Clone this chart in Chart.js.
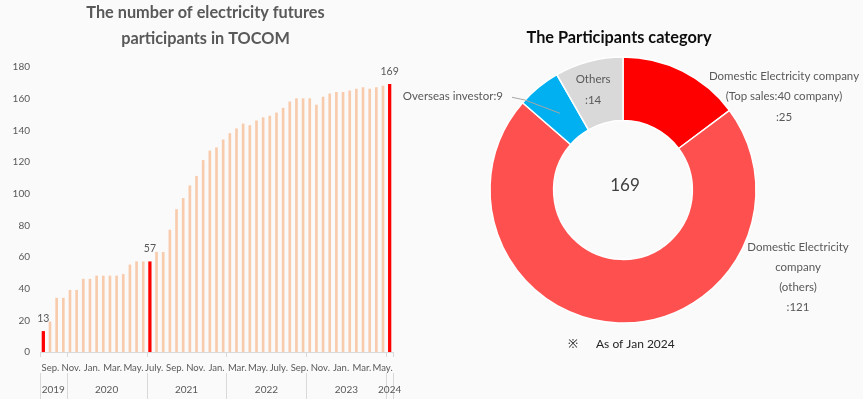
<!DOCTYPE html>
<html><head><meta charset="utf-8">
<script src="https://cdn.jsdelivr.net/npm/chart.js@4.4.1/dist/chart.umd.min.js"></script>
<style>
html,body{margin:0;padding:0;background:#FAFAFA;}
#wrap{position:relative;width:863px;height:399px;overflow:hidden;background:#FAFAFA;}
#bar{position:absolute;left:0;top:0;}
#pie{position:absolute;left:380px;top:0;}
</style></head><body>
<div id="wrap"><canvas id="bar" width="411" height="399"></canvas><canvas id="pie" width="483" height="399"></canvas></div>
<script>
// ---------- data: left chart ----------
const periods = ['2019-09','2019-10','2019-11','2019-12',
  '2020-01','2020-02','2020-03','2020-04','2020-05','2020-06','2020-07','2020-08','2020-09','2020-10','2020-11','2020-12',
  '2021-01','2021-02','2021-03','2021-04','2021-05','2021-06','2021-07','2021-08','2021-09','2021-10','2021-11','2021-12',
  '2022-01','2022-02','2022-03','2022-04','2022-05','2022-06','2022-07','2022-08','2022-09','2022-10','2022-11','2022-12',
  '2023-01','2023-02','2023-03','2023-04','2023-05','2023-06','2023-07','2023-08','2023-09','2023-10','2023-11','2023-12',
  '2024-01'];
const participants = [13,19,34,34,
  39,39,46,46,48,48,48,48,49,55,57,57,
  57,63,63,77,90,97,105,111,121,127,129,134,
  138,141,144,143,146,148,149,151,154,158,160,160,
  160,156,161,163,164,164,165,166,167,166,167,168,
  169];
const highlightPeriods = ['2019-09','2021-01','2024-01'];
const monthTicks = ['Sep.','Nov.','Jan.','Mar.','May.','July.','Sep.','Nov.','Jan.','Mar.','May.','July.','Sep.','Nov.','Jan.','Mar.','May.'];
const years = ['2019','2020','2021','2022','2023','2024'];
const yTicks = [0,20,40,60,80,100,120,140,160,180];
const barTitle = ['The number of electricity futures','participants in TOCOM'];

// ---------- data: right chart ----------
const categories = ['Domestic Electricity company (Top sales:40 company)','Domestic Electricity company (others)','Overseas investor','Others'];
const counts = [25,121,9,14];
const sliceLabelLines = [
  ['Domestic Electricity company','(Top sales:40 company)',':25'],
  ['Domestic Electricity','company','(others)',':121'],
  ['Overseas investor:9'],
  ['Others',':14']
];
const pieTitle = 'The Participants category';
const footnoteMark = '※';
const footnote = 'As of Jan 2024';

const F = "Lato, 'Noto Sans', 'Noto Sans CJK JP', sans-serif";
const GREY = '#595959';

const isHi = periods.map(p => highlightPeriods.includes(p));

const barDecor = {
  id:'barDecor',
  afterDraw(chart){
    const ctx = chart.ctx;
    const xs = chart.scales.x;
    const {left,right,bottom} = chart.chartArea;
    ctx.save();
    // title
    ctx.fillStyle = GREY;
    ctx.font = 'bold 16.3px ' + F;
    ctx.textAlign = 'center';
    ctx.textBaseline = 'middle';
    ctx.fillText(barTitle[0], chart.width/2, 13);
    ctx.fillText(barTitle[1], chart.width/2, 39);
    // year groups
    const starts = [];
    periods.forEach((p,i)=>{ if(i===0 || p.slice(0,4)!==periods[i-1].slice(0,4)) starts.push(i); });
    const bounds = [left];
    starts.forEach(i=>{ if(i>0) bounds.push((xs.getPixelForValue(i-1)+xs.getPixelForValue(i))/2); });
    bounds.push(right);
    ctx.strokeStyle = '#D9D9D9';
    ctx.lineWidth = 1;
    bounds.forEach(x=>{
      const xx = Math.round(x)+0.5;
      ctx.beginPath();
      ctx.moveTo(xx,bottom); ctx.lineTo(xx,bottom+5);
      ctx.moveTo(xx,bottom+21); ctx.lineTo(xx,399);
      ctx.stroke();
    });
    ctx.font = '10px ' + F;
    ctx.fillStyle = GREY;
    starts.forEach((s,k)=>{
      const e = (k+1<starts.length ? starts[k+1] : periods.length) - 1;
      const x = (xs.getPixelForValue(s)+xs.getPixelForValue(e))/2;
      ctx.fillText(years[k], x, bottom+38);
    });
    // data labels
    const meta = chart.getDatasetMeta(1);
    ctx.font = '10.5px ' + F;
    participants.forEach((v,i)=>{
      if(!isHi[i]) return;
      const b = meta.data[i];
      ctx.fillText(String(v), b.x, b.y-13);
    });
    ctx.restore();
  }
};

new Chart(document.getElementById('bar'), {
  type:'bar',
  data:{
    labels: periods,
    datasets:[
      {data: participants.map((v,i)=>isHi[i]?null:v), backgroundColor:'#F8CBAD', barThickness:2, grouped:false},
      {data: participants.map((v,i)=>isHi[i]?v:null), backgroundColor:'#FF0000', barThickness:2.6, grouped:false}
    ]
  },
  options:{
    responsive:false, animation:false, devicePixelRatio:1,
    layout:{padding:{top:67,right:18,left:0,bottom:0}},
    plugins:{legend:{display:false}, tooltip:{enabled:false}, title:{display:false}},
    scales:{
      x:{type:'category', position:'bottom', weight:0, offset:true,
         grid:{display:false, drawTicks:false}, border:{display:true,color:'#D9D9D9',width:1},
         ticks:{display:false}, afterFit:s=>{s.height=0;}},
      xm:{type:'category', position:'bottom', weight:1, labels:monthTicks, offset:true,
         grid:{display:false, drawTicks:false}, border:{display:false},
         ticks:{autoSkip:false, maxRotation:0, minRotation:0, padding:10, color:GREY, font:{family:F,size:9.5}},
         afterFit:s=>{s.height=47;}},
      y:{min:0, max:180, grid:{display:false, drawTicks:false}, border:{display:false},
         afterBuildTicks:s=>{s.ticks = yTicks.map(v=>({value:v}));},
         ticks:{padding:10, color:GREY, font:{family:F,size:10}},
         afterFit:s=>{s.width=40;}}
    }
  },
  plugins:[barDecor]
});

const pieDecor = {
  id:'pieDecor',
  afterDraw(chart){
    const ctx = chart.ctx;
    const arcs = chart.getDatasetMeta(0).data;
    const cx = arcs[0].x, cy = arcs[0].y, R = arcs[0].outerRadius, r = arcs[0].innerRadius;
    const mid = a => (a.startAngle + a.endAngle)/2;
    const at = (a, rr) => ({x: cx + rr*Math.cos(mid(a)), y: cy + rr*Math.sin(mid(a))});
    ctx.save();
    ctx.textAlign = 'center';
    ctx.textBaseline = 'middle';
    // title
    ctx.fillStyle = '#0D0D0D';
    ctx.font = 'bold 16.3px ' + F;
    ctx.fillText(pieTitle, cx-4, 38);
    // total
    const total = counts.reduce((a,b)=>a+b,0);
    ctx.fillStyle = '#404040';
    ctx.font = '17px ' + F;
    ctx.fillText(String(total), cx+2, cy-4);
    // slice labels
    ctx.fillStyle = GREY;
    ctx.font = '11.5px ' + F;
    sliceLabelLines[0].forEach((t,j)=>ctx.fillText(t, cx+161, cy-114+j*20.5));
    sliceLabelLines[1].forEach((t,j)=>ctx.fillText(t, cx+175, cy+57+j*20));
    const po = at(arcs[3], r + (R-r)*0.55);
    sliceLabelLines[3].forEach((t,j)=>ctx.fillText(t, po.x-3, po.y-9.5+j*20.5));
    const pv = at(arcs[2], r + (R-r)*0.47);
    ctx.textAlign = 'right';
    ctx.fillText(sliceLabelLines[2][0], pv.x-57, pv.y-16.5);
    ctx.strokeStyle = '#A6A6A6';
    ctx.lineWidth = 1;
    ctx.beginPath();
    ctx.moveTo(pv.x-48, pv.y-16);
    ctx.lineTo(pv.x-35, pv.y-13.3);
    ctx.lineTo(pv.x, pv.y);
    ctx.stroke();
    // footnote
    ctx.fillStyle = '#262626';
    ctx.font = '12px ' + F;
    ctx.textAlign = 'center';
    ctx.fillText(footnoteMark, cx-50, cy+154);
    ctx.textAlign = 'left';
    ctx.fillText(footnote, cx-27, cy+154);
    ctx.restore();
  }
};

new Chart(document.getElementById('pie'), {
  type:'doughnut',
  data:{labels:categories, datasets:[{data:counts,
    backgroundColor:['#FF0000','#FF5050','#00B0F0','#D9D9D9'],
    borderColor:'#FFFFFF', borderWidth:1.5}]},
  options:{
    responsive:false, animation:false, devicePixelRatio:1,
    radius:133, cutout:69, rotation:0,
    layout:{padding:{left:110,top:57,right:107,bottom:76}},
    plugins:{legend:{display:false}, tooltip:{enabled:false}}
  },
  plugins:[pieDecor]
});
</script>
</body></html>
